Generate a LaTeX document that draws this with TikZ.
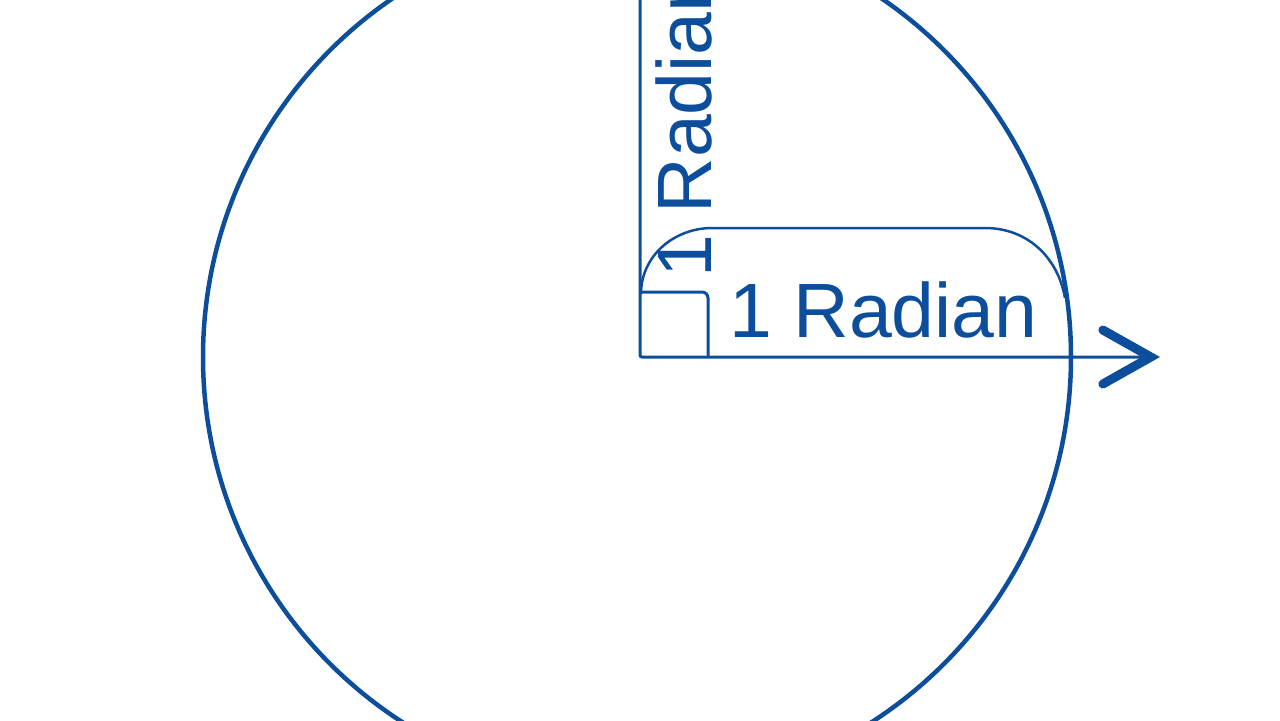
\documentclass[tikz,border=0pt]{standalone}
\usepackage{fontspec}
\setmainfont{Liberation Sans}
\usetikzlibrary{arrows.meta}

\definecolor{radblue}{RGB}{12,78,155}

\tikzset{
  radline/.style={draw=radblue, line width=1.5pt},
  rim/.style={draw=radblue, line width=2.25pt},
  radlabel/.style={text=radblue, inner sep=0pt, font=\fontsize{38.5}{40}\selectfont},
}

\begin{document}
\begin{tikzpicture}[x=0.5pt, y=-0.5pt]
  \useasboundingbox (0,0) rectangle (1280,720);

  \coordinate (O) at (640,357);
  \coordinate (M) at (637,357);
  \coordinate (top) at (640,-10);
  \coordinate (tip) at (1160,357);

  % the unit circle
  \draw[rim] (M) circle[radius=434];

  % the two radii
  \draw[radline, rounded corners=1,
        -{Straight Barb[length=24pt, width=27pt, line width=4.5pt, line cap=round]}]
    (top) -- (O) -- (tip);

  % right angle mark
  \draw[radline, rounded corners=3] (640,292) -| (708,357);

  % the arc
  \draw[radline, line width=1.25pt]
    (641,294) .. controls (641,255) and (675,228) .. (712,228)
    -- (985,228) .. controls (1028,228) and (1058,258) .. (1065,298);

  \node[radlabel, anchor=base west] (hlabel) at (729,337) {1 Radian};
  \node[radlabel, anchor=base west, rotate=90] (vlabel) at (711,278) {1 Radian};
\end{tikzpicture}
\end{document}
